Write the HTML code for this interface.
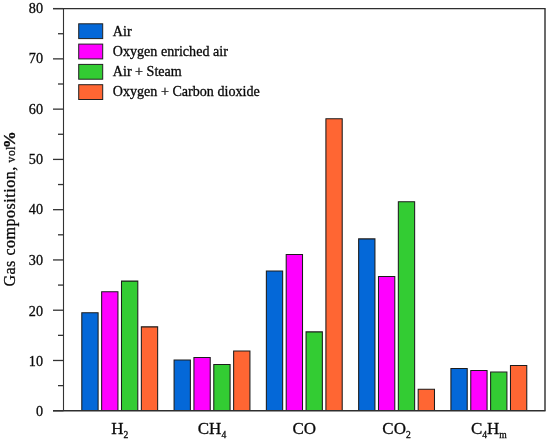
<!DOCTYPE html><html><head><meta charset="utf-8"><style>html,body{margin:0;padding:0;background:#fff}svg{display:block}text{font-family:"Liberation Serif","Times New Roman",serif;stroke:#0a0a0a;stroke-width:0.3px}</style></head><body><svg width="550" height="443" viewBox="0 0 550 443" fill="#0a0a0a">
<rect width="550" height="443" fill="#fff"/>
<path d="M81.80 410.75V312.77H98.10V410.75" fill="#0468d8" stroke="#1c1c1c" stroke-width="1.05"/>
<path d="M101.65 410.75V291.66H117.95V410.75" fill="#ff00ff" stroke="#1c1c1c" stroke-width="1.05"/>
<path d="M121.50 410.75V281.10H137.80V410.75" fill="#33cc33" stroke="#1c1c1c" stroke-width="1.05"/>
<path d="M141.35 410.75V326.85H157.65V410.75" fill="#ff6633" stroke="#1c1c1c" stroke-width="1.05"/>
<path d="M174.08 410.75V360.03H190.38V410.75" fill="#0468d8" stroke="#1c1c1c" stroke-width="1.05"/>
<path d="M193.93 410.75V357.51H210.23V410.75" fill="#ff00ff" stroke="#1c1c1c" stroke-width="1.05"/>
<path d="M213.78 410.75V364.55H230.08V410.75" fill="#33cc33" stroke="#1c1c1c" stroke-width="1.05"/>
<path d="M233.63 410.75V350.98H249.93V410.75" fill="#ff6633" stroke="#1c1c1c" stroke-width="1.05"/>
<path d="M266.36 410.75V271.05H282.66V410.75" fill="#0468d8" stroke="#1c1c1c" stroke-width="1.05"/>
<path d="M286.21 410.75V254.46H302.51V410.75" fill="#ff00ff" stroke="#1c1c1c" stroke-width="1.05"/>
<path d="M306.06 410.75V331.88H322.36V410.75" fill="#33cc33" stroke="#1c1c1c" stroke-width="1.05"/>
<path d="M325.91 410.75V118.74H342.21V410.75" fill="#ff6633" stroke="#1c1c1c" stroke-width="1.05"/>
<path d="M358.64 410.75V238.88H374.94V410.75" fill="#0468d8" stroke="#1c1c1c" stroke-width="1.05"/>
<path d="M378.49 410.75V276.58H394.79V410.75" fill="#ff00ff" stroke="#1c1c1c" stroke-width="1.05"/>
<path d="M398.34 410.75V201.68H414.64V410.75" fill="#33cc33" stroke="#1c1c1c" stroke-width="1.05"/>
<path d="M418.19 410.75V389.18H434.49V410.75" fill="#ff6633" stroke="#1c1c1c" stroke-width="1.05"/>
<path d="M450.92 410.75V368.57H467.22V410.75" fill="#0468d8" stroke="#1c1c1c" stroke-width="1.05"/>
<path d="M470.77 410.75V370.58H487.07V410.75" fill="#ff00ff" stroke="#1c1c1c" stroke-width="1.05"/>
<path d="M490.62 410.75V372.09H506.92V410.75" fill="#33cc33" stroke="#1c1c1c" stroke-width="1.05"/>
<path d="M510.47 410.75V365.56H526.77V410.75" fill="#ff6633" stroke="#1c1c1c" stroke-width="1.05"/>
<path d="M53.0 8.6H545.55M53.0 410.75H545.55" fill="none" stroke="#2e2e2e" stroke-width="1.4"/>
<path d="M63.5 8.6V410.75" fill="none" stroke="#333" stroke-width="1.1"/>
<path d="M545.0 8.6V410.75" fill="none" stroke="#333" stroke-width="1.45"/>
<line x1="53.0" x2="63.5" y1="410.75" y2="410.75" stroke="#333" stroke-width="1.3"/>
<text x="43.0" y="416" font-size="14.2" text-anchor="end">0</text>
<line x1="58.0" x2="63.5" y1="385.62" y2="385.62" stroke="#333" stroke-width="1.3"/>
<line x1="53.0" x2="63.5" y1="360.48" y2="360.48" stroke="#333" stroke-width="1.3"/>
<text x="43.0" y="366" font-size="14.2" text-anchor="end">10</text>
<line x1="58.0" x2="63.5" y1="335.35" y2="335.35" stroke="#333" stroke-width="1.3"/>
<line x1="53.0" x2="63.5" y1="310.21" y2="310.21" stroke="#333" stroke-width="1.3"/>
<text x="43.0" y="316" font-size="14.2" text-anchor="end">20</text>
<line x1="58.0" x2="63.5" y1="285.08" y2="285.08" stroke="#333" stroke-width="1.3"/>
<line x1="53.0" x2="63.5" y1="259.94" y2="259.94" stroke="#333" stroke-width="1.3"/>
<text x="43.0" y="265" font-size="14.2" text-anchor="end">30</text>
<line x1="58.0" x2="63.5" y1="234.81" y2="234.81" stroke="#333" stroke-width="1.3"/>
<line x1="53.0" x2="63.5" y1="209.68" y2="209.68" stroke="#333" stroke-width="1.3"/>
<text x="43.0" y="214" font-size="14.2" text-anchor="end">40</text>
<line x1="58.0" x2="63.5" y1="184.54" y2="184.54" stroke="#333" stroke-width="1.3"/>
<line x1="53.0" x2="63.5" y1="159.41" y2="159.41" stroke="#333" stroke-width="1.3"/>
<text x="43.0" y="164" font-size="14.2" text-anchor="end">50</text>
<line x1="58.0" x2="63.5" y1="134.27" y2="134.27" stroke="#333" stroke-width="1.3"/>
<line x1="53.0" x2="63.5" y1="109.14" y2="109.14" stroke="#333" stroke-width="1.3"/>
<text x="43.0" y="114" font-size="14.2" text-anchor="end">60</text>
<line x1="58.0" x2="63.5" y1="84.00" y2="84.00" stroke="#333" stroke-width="1.3"/>
<line x1="53.0" x2="63.5" y1="58.87" y2="58.87" stroke="#333" stroke-width="1.3"/>
<text x="43.0" y="63" font-size="14.2" text-anchor="end">70</text>
<line x1="58.0" x2="63.5" y1="33.73" y2="33.73" stroke="#333" stroke-width="1.3"/>
<line x1="53.0" x2="63.5" y1="8.60" y2="8.60" stroke="#333" stroke-width="1.3"/>
<text x="43.0" y="13" font-size="14.2" text-anchor="end">80</text>
<rect x="78.7" y="23.80" width="24" height="14.8" fill="#0468d8" stroke="#222" stroke-width="1"/>
<text x="112.8" y="36" font-size="14.1">Air</text>
<rect x="78.7" y="44.10" width="24" height="14.8" fill="#ff00ff" stroke="#222" stroke-width="1"/>
<text x="112.8" y="56" font-size="14.1">Oxygen enriched air</text>
<rect x="78.7" y="64.40" width="24" height="14.8" fill="#33cc33" stroke="#222" stroke-width="1"/>
<text x="112.8" y="76" font-size="14.1">Air + Steam</text>
<rect x="78.7" y="84.70" width="24" height="14.8" fill="#ff6633" stroke="#222" stroke-width="1"/>
<text x="112.8" y="96" font-size="14.1">Oxygen + Carbon dioxide</text>
<text x="119.72" y="433.8" font-size="17" text-anchor="middle"><tspan>H</tspan><tspan font-size="9.6" dy="3.7">2</tspan><tspan dy="-3.7" font-size="17">&#8203;</tspan></text>
<text x="212.00" y="433.8" font-size="17" text-anchor="middle"><tspan>CH</tspan><tspan font-size="9.6" dy="3.7">4</tspan><tspan dy="-3.7" font-size="17">&#8203;</tspan></text>
<text x="304.29" y="433.8" font-size="17" text-anchor="middle"><tspan>CO</tspan></text>
<text x="396.57" y="433.8" font-size="17" text-anchor="middle"><tspan>CO</tspan><tspan font-size="9.6" dy="3.7">2</tspan><tspan dy="-3.7" font-size="17">&#8203;</tspan></text>
<text x="488.85" y="433.8" font-size="17" text-anchor="middle"><tspan>C</tspan><tspan font-size="9.6" dy="3.7">4</tspan><tspan dy="-3.7" font-size="17">&#8203;</tspan><tspan>H</tspan><tspan font-size="9.6" dy="3.7">m</tspan><tspan dy="-3.7" font-size="17">&#8203;</tspan></text>
<text transform="translate(15.4,286.6) rotate(-90)" font-size="16" letter-spacing="0.53">Gas composition,</text>
<text transform="translate(15.1,162.4) rotate(-90)" font-size="11.5" letter-spacing="0.6">vol</text>
<text transform="translate(15.4,148.2) rotate(-90)" font-size="17" font-weight="bold">%</text>
</svg></body></html>
